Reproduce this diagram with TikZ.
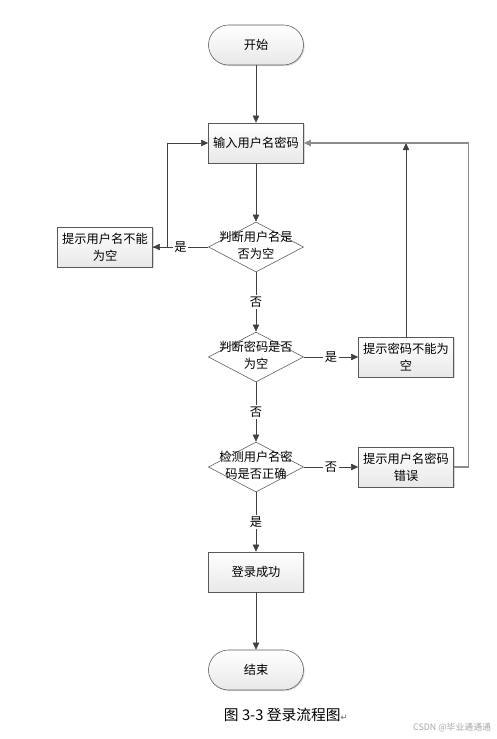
\documentclass[tikz,border=0pt]{standalone}
\usepackage{fontspec}
\setmainfont{Noto Sans CJK SC}
\newfontfamily\symfont{DejaVu Sans}
\usepackage{tikz}
\usetikzlibrary{shapes.geometric}
\usetikzlibrary{shadows}
\usetikzlibrary{arrows.meta}

\newcommand{\dtext}[1]{\smash{\makebox[0pt]{\raisebox{-2pt}{\begin{tabular}{@{}c@{}}#1\end{tabular}}}}}

\tikzset{
  box/.style={draw=black!65, top color=white, bottom color=black!9, minimum width=2.375cm, minimum height=1cm, inner sep=1pt, align=center, drop shadow={shadow xshift=0.8pt, shadow yshift=-0.8pt, opacity=0.3}},
  terminal/.style={box, rounded corners=0.5cm},
  decision/.style={diamond, draw=black!65, fill=white, minimum width=2.375cm, minimum height=1.25cm, inner sep=0pt},
  flow/.style={draw=black!75, -{Triangle[length=5pt,width=4.5pt]}},
  back/.style={flow, draw=black!45, line width=0.9pt},
  lbl/.style={fill=white, inner sep=1pt}
}

\begin{document}
\begin{tikzpicture}[x=0.025cm, y=-0.025cm, font=\fontsize{8.7}{12}\selectfont]
                \useasboundingbox (0,0) rectangle (497,739);

                % Start and input
                \node[terminal] (start) at (256,45) {开始};
                \node[box] (input) at (256,143) {输入用户名密码};

                % Check user name (left branch)
                \node[decision] (chkuser) at (256,247) {\dtext{判断用户名是\\否为空}};
                \node[box] (warnuser) at (105,247) {提示用户名不能\\为空};

                % Check password (right branch)
                \node[decision] (chkpwd) at (256,357) {\dtext{判断密码是否\\为空}};
                \node[box] (warnpwd) at (406,357) {提示密码不能为\\空};

                % Verify (right branch)
                \node[decision] (verify) at (256,467) {\dtext{检测用户名密\\码是否正确}};
                \node[box] (warnerr) at (406,467) {提示用户名密码\\错误};

                % Success and end
                \node[box] (success) at (256,572) {登录成功};
                \node[terminal] (stop) at (256,670) {结束};

                % Connectors
                \draw[flow] (start) -- (input);
                \draw[flow] (input) -- (chkuser);
                \draw[flow] (warnuser.east) -- ++(14,0) |- (input.west);
                \draw[flow] (chkuser) -- node[lbl]{是} (warnuser);
                \draw[flow] (chkuser) -- node[lbl]{否} (chkpwd);
                \draw[flow] (chkpwd) -- node[lbl]{是} (warnpwd);
                \draw[flow] (warnpwd) -- (warnpwd |- input);
                \draw[flow] (chkpwd) -- node[lbl]{否} (verify);
                \draw[flow] (verify) -- node[lbl]{否} (warnerr);
                \draw[back] (warnerr.east) -- ++(15,0) |- (input.east);
                \draw[flow] (verify) -- node[lbl]{是} (success);
                \draw[flow] (success) -- (stop);

                % Caption
                \node[anchor=west, font=\fontsize{10.5}{12}\selectfont] (caption) at (219,715) {图 3-3 登录流程图{\symfont\fontsize{6}{7}\selectfont\color{black!60}↵}};
                \node[anchor=east, text=black!35, font=\fontsize{6.3}{8}\selectfont] (mark) at (496,728) {CSDN @毕业通通通};
\end{tikzpicture}
\end{document}
